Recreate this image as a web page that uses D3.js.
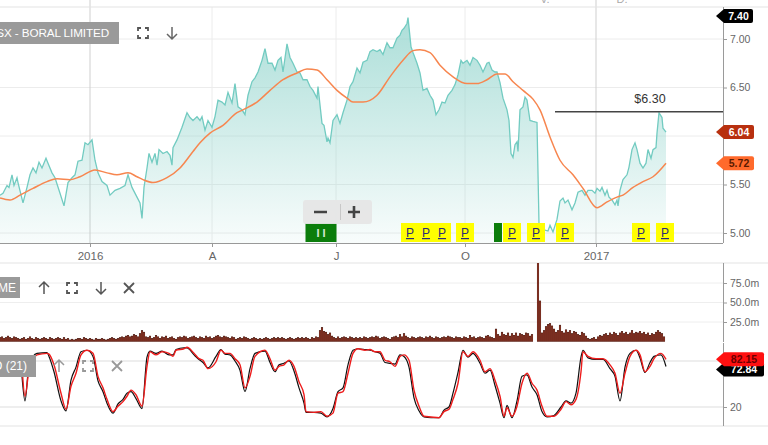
<!DOCTYPE html>
<html>
<head>
<meta charset="utf-8">
<script src="https://cdn.jsdelivr.net/npm/d3@7"></script>
<style>
  body { margin: 0; background: #fff; }
  svg { display: block; font-family: "Liberation Sans", Arial, sans-serif; }
</style>
</head>
<body>
<script>
var chartWidth = 768,
  chartHeight = 445;

// x ticks, in trading sessions from the first bar
var tickDays = [45, 106, 168, 232.5, 298];
var tickLabels = ['2016', 'A', 'J', 'O', '2017'];

// close price [session, price]
var closes = [[0,5.39],[1.5,5.41],[3.5,5.49],[4.5,5.47],[6,5.60],[7,5.49],[8.5,5.57],[9,5.52],[11.5,5.31],[13.5,5.47],
  [15,5.60],[16.5,5.67],[18,5.62],[19.5,5.73],[21,5.67],[23,5.77],[24,5.72],[26,5.62],[27.5,5.57],[30,5.41],
  [32,5.28],[34,5.52],[36,5.57],[37.5,5.60],[39,5.74],[41,5.75],[42.5,5.93],[44,5.91],[46,5.96],[47.5,5.75],
  [49,5.62],[51,5.53],[53.5,5.49],[55,5.39],[57.5,5.44],[60,5.46],[62.5,5.49],[64,5.60],[66,5.47],[68.5,5.37],
  [70,5.31],[71,5.15],[72,5.47],[73.5,5.67],[74.5,5.82],[76,5.73],[77.5,5.82],[78.5,5.70],[79.5,5.86],[81.5,5.82],
  [83.5,5.84],[85,5.80],[86,5.70],[86.5,5.88],[88.5,5.96],[91,6.09],[93.5,6.24],[95,6.19],[96.5,6.16],[98.5,6.20],
  [100,6.16],[101,6.20],[102.5,6.06],[104,6.16],[106,6.09],[107.5,6.20],[109,6.37],[111,6.35],[112.5,6.32],[114,6.45],
  [116,6.34],[117.5,6.54],[119,6.30],[121,6.27],[122.5,6.22],[124,6.42],[126,6.56],[127.5,6.60],[129,6.66],[131,6.78],
  [132.5,6.90],[134,6.75],[136,6.75],[137.5,6.68],[139,6.78],[140.5,6.81],[141.5,6.66],[143.5,6.95],[145,6.81],[146.5,6.75],
  [148.5,6.66],[150,6.65],[151.5,6.58],[153.5,6.58],[155,6.51],[156.5,6.47],[158.5,6.39],[159,6.51],[161,6.13],[162,6.11],
  [163.5,5.94],[164,5.98],[165,5.93],[166.5,6.16],[168.5,6.22],[170,6.13],[171.5,6.24],[173.5,6.37],[175,6.51],[176.5,6.56],
  [178.5,6.70],[180,6.65],[181.5,6.76],[183.5,6.78],[185,6.87],[186.5,6.89],[188.5,6.87],[190,6.89],[191.5,6.84],[193.5,6.96],
  [195,6.91],[196.5,6.91],[198.5,7.01],[200,7.04],[201,7.09],[202,7.11],[203.5,7.16],[204,7.22],[205.5,6.92],[206.5,6.86],
  [208.5,6.75],[210,6.65],[211.5,6.47],[213.5,6.49],[215,6.42],[216.5,6.37],[218,6.22],[219.5,6.27],[221,6.35],[222.5,6.34],
  [224,6.42],[226,6.47],[227.5,6.53],[229,6.63],[230.5,6.78],[231.5,6.75],[233.5,6.78],[235,6.73],[236.5,6.81],[238.5,6.78],
  [240,6.73],[241.5,6.66],[243.5,6.75],[244.5,6.76],[246,6.68],[247.5,6.66],[248.5,6.66],[250,6.55],[251.5,6.39],[253.5,6.27],
  [254.5,6.16],[255.5,5.82],[256.5,5.78],[257.5,5.91],[258.5,5.94],[259,5.84],[260,6.27],[261.5,6.30],[262.5,6.40],[263.5,6.37],
  [265,6.16],[266.5,6.15],[268.5,6.14],[269.5,5.10],[271,5.03],[272.5,5.03],[274,5.02],[275,5.08],[276.5,5.01],[278.5,5.14],
  [280,5.33],[281.5,5.36],[282.5,5.31],[284,5.34],[286,5.24],[287.5,5.31],[289,5.42],[291,5.44],[292.5,5.39],[294,5.44],
  [296,5.44],[297.5,5.41],[298.5,5.46],[300,5.43],[301,5.47],[302.5,5.39],[303.5,5.44],[304.5,5.37],[306,5.34],[307.5,5.29],
  [308.5,5.34],[309,5.28],[310,5.44],[311.5,5.55],[313.5,5.60],[314.5,5.68],[316,5.86],[317.5,5.93],[318.5,5.86],[320,5.72],
  [321.5,5.67],[323,5.72],[324,5.86],[325.5,5.77],[326.5,5.86],[328,5.88],[328.5,6.03],[329.5,6.24],[331,6.19],[331.5,6.08],
  [333,6.04]];

// moving average [session, price]
var movingAvg = [[0,5.36],[5,5.34],[10,5.39],[16.5,5.46],[23.5,5.53],[28.5,5.56],[35,5.55],[40,5.58],[47.5,5.65],[53.5,5.62],
  [58.5,5.60],[64,5.62],[68.5,5.58],[71.5,5.55],[76.5,5.52],[83.5,5.57],[90,5.67],[96.5,5.84],[100,5.93],[105,6.03],
  [111.5,6.11],[118.5,6.24],[121.5,6.27],[128.5,6.35],[135,6.47],[141.5,6.58],[148.5,6.65],[153.5,6.69],[158.5,6.68],[163.5,6.58],
  [168.5,6.47],[173.5,6.39],[176.5,6.35],[181.5,6.35],[188.5,6.42],[195,6.61],[201.5,6.78],[206.5,6.88],[210,6.89],[215,6.86],
  [220,6.73],[226.5,6.61],[233.5,6.54],[238.5,6.54],[243.5,6.58],[248.5,6.64],[252.5,6.64],[256.5,6.56],[261.5,6.47],[266.5,6.38],
  [270,6.27],[275,5.99],[280,5.75],[286.5,5.60],[291.5,5.46],[298.5,5.26],[303.5,5.32],[308.5,5.37],[311.5,5.39],[316.5,5.47],
  [321.5,5.53],[326.5,5.58],[333,5.72]];

// volume in millions, one bar per session
var volumes = [5,6,4,5,7,5,4,6,5,4, 3,4,5,3,4,6,4,3,5,4, 3,4,5,4,3,5,4,3,4,5, 4,3,5,3,4,2,3,2,3,4,
  4,3,5,4,3,4,3,2,4,3, 3,4,3,2,3,4,5,4,3,4, 5,6,5,7,8,6,7,9,8,6, 10,14,12,6,5,7,4,5,8,6,
  4,6,5,7,4,5,6,4,3,5, 6,5,7,6,4,5,6,7,5,4, 6,5,4,7,5,6,4,5,7,8, 6,5,7,6,5,4,6,5,3,4,
  5,4,6,5,4,3,4,5,4,3, 4,3,4,5,4,3,4,5,4,5, 4,5,4,3,4,5,4,3,4,5, 4,5,4,5,4,3,5,4,6,5,
  14,18,13,12,9,11,7,5,4,6, 4,5,6,5,4,6,5,4,5,4, 5,4,6,5,4,5,6,5,7,6, 4,5,6,5,4,3,5,6,7,5,
  9,6,10,7,5,4,6,5,4,5, 6,5,4,6,5,7,5,4,6,5, 4,5,6,5,7,6,5,4,6,5, 5,4,6,5,4,8,5,6,4,5,
  6,5,4,7,8,6,5,4,16,9, 7,12,9,8,11,7,10,8,11,7, 10,9,8,11,10,7,9,0,0,101, 52,11,14,19,22,23,20,16,12,14,
  21,13,11,15,12,14,10,13,12,9, 8,12,10,7,4,3,4,5,3,6, 8,7,9,10,8,11,9,12,10,8, 11,13,10,12,9,11,14,10,12,11,
  13,10,12,9,11,8,10,9,12,14, 12,10,6];

// stochastic [session, %K, %D]
var stoch = [[11,60,73],[12.5,28,34],[14.5,75,68],[18.5,90,88],[23.5,91,90],[24.5,86,89],[27,66,75],[30.5,28,38],[33,15,17],[35.5,55,47],
  [38,72,64],[40.5,92,88],[43.5,94,94],[46.5,86,90],[49,54,60],[51.5,40,45],[53.5,25,30],[56.5,12,14],[59,24,21],[61.5,30,27],
  [63.5,38,34],[65.5,40,42],[68,31,36],[71,18,21],[73.5,85,73],[75,93,92],[78,90,88],[81,93,92],[84.5,88,90],[86.5,88,86],
  [88,95,94],[92,97,96],[93.5,97,98],[97,88,90],[99.5,82,83],[101.5,78,81],[104,71,70],[108,86,79],[110.5,95,94],[112.5,89,90],
  [115,88,90],[117.5,80,83],[120,68,75],[122.5,40,45],[125,70,60],[127.5,90,86],[132.5,93,94],[135,78,83],[137.5,66,68],[139.5,75,73],
  [142,77,75],[144.5,80,81],[147,67,73],[149.5,45,53],[152,25,36],[153,13,14],[157,13,13],[160.5,12,14],[163.5,7,8],[166.5,18,12],
  [169,40,38],[171.5,45,40],[174,75,64],[176.5,94,90],[179,96,96],[182.5,95,94],[185,94,95],[187.5,92,92],[190,90,92],[192.5,78,81],
  [195,77,79],[197.5,76,73],[200,88,86],[202,86,88],[204.5,72,81],[207,32,42],[209.5,15,21],[212,7,8],[215.5,6,7],[219.5,6,6],
  [222,16,14],[224.5,20,17],[226.5,38,30],[229,65,51],[231.5,94,92],[234,85,86],[236.5,90,92],[240,77,81],[242.5,64,66],[245,68,70],
  [247.5,48,55],[250,25,34],[252,6,8],[253.5,22,19],[256,6,8],[258.5,28,21],[261,60,51],[263.5,62,64],[266,46,51],[268.5,36,42],
  [271,14,21],[273.5,7,8],[277,9,8],[280.5,20,17],[283,28,27],[285.5,25,23],[288,38,30],[290.5,85,66],[291.5,94,92],[294,84,86],
  [298,82,83],[301.5,82,83],[305,70,75],[307.5,60,64],[310,28,38],[312.5,72,64],[315,90,86],[318,94,94],[320,84,88],[322.5,65,66],
  [325,78,73],[327,86,83],[330.5,88,90],[333,72.84,82.15]];

// event flags under the price
var eventDays = [160.5, 205, 213, 221, 232.5, 249, 256, 268, 282.5, 320.5, 332.5];
var eventTypes = ['split', 'P', 'P', 'P', 'P', 'bar', 'P', 'P', 'P', 'P', 'P'];

var priceGrid = [5, 5.5, 6, 6.5, 7];
var priceLabels = [5, 5.5, 6.5, 7];      // 6.00 sits under the last-price tag
var volumeTicks = [25, 50, 75];
var stochGrid = [20, 80];
var stochLabels = [20];                  // 80 sits under the stochastic tags
var lastClose = 6.04, lastAvg = 5.72, highMark = 7.40;
var lineLevel = 6.25, lineLabel = '$6.30';
var startLineDay = 277.5;

// panels
var axisX = 723;
var main = { top: 7, bottom: 243 };
var vol = { top: 263, bottom: 342 };
var sto = { top: 343, bottom: 426 };

var x = d3.scaleLinear().domain([0, 361.5]).range([0, axisX]);
var yPrice = d3.scaleLinear().domain([5, 7]).range([233, 39]);
var yVol = d3.scaleLinear().domain([0, 75]).range([341.5, 283]);
var ySto = d3.scaleLinear().domain([20, 80]).range([407, 361]);

var svg = d3.select('body').append('svg')
  .attr('width', chartWidth)
  .attr('height', chartHeight)
  .attr('viewBox', '0 0 ' + chartWidth + ' ' + chartHeight);

var defs = svg.append('defs');
var grad = defs.append('linearGradient')
  .attr('id', 'areaFill')
  .attr('gradientUnits', 'userSpaceOnUse')
  .attr('x1', 0).attr('x2', 0).attr('y1', 15).attr('y2', main.bottom);
grad.append('stop').attr('offset', '0%').attr('stop-color', '#8fd3cb').attr('stop-opacity', 0.75);
grad.append('stop').attr('offset', '100%').attr('stop-color', '#8fd3cb').attr('stop-opacity', 0.06);

[['clipMain', main], ['clipVol', vol], ['clipSto', sto]].forEach(function(c) {
  defs.append('clipPath').attr('id', c[0])
    .append('rect')
    .attr('x', 0).attr('y', c[1].top)
    .attr('width', axisX).attr('height', c[1].bottom - c[1].top);
});

//GRID

var grid = svg.append('g').attr('id', 'grid');
grid.selectAll('line.h')
  .data(priceGrid)
  .enter().append('line')
  .attr('x1', 0).attr('x2', axisX)
  .attr('y1', function(d) { return yPrice(d); })
  .attr('y2', function(d) { return yPrice(d); })
  .attr('stroke', '#ececec');
grid.selectAll('line.v')
  .data(tickDays)
  .enter().append('line')
  .attr('x1', function(d) { return x(d); })
  .attr('x2', function(d) { return x(d); })
  .attr('y1', function(d, i) { return /^\d/.test(tickLabels[i]) ? 0 : main.top; })
  .attr('y2', main.bottom)
  .attr('stroke', function(d, i) { return /^\d/.test(tickLabels[i]) ? '#cfcfcf' : '#ececec'; });
grid.selectAll('line.vv')
  .data(volumeTicks)
  .enter().append('line')
  .attr('x1', 0).attr('x2', axisX)
  .attr('y1', function(d) { return yVol(d); })
  .attr('y2', function(d) { return yVol(d); })
  .attr('stroke', '#eeeeee');
grid.selectAll('line.sv')
  .data(stochGrid)
  .enter().append('line')
  .attr('x1', 0).attr('x2', axisX)
  .attr('y1', function(d) { return ySto(d); })
  .attr('y2', function(d) { return ySto(d); })
  .attr('stroke', '#dddddd');

// panel borders
svg.append('line').attr('x1', 0).attr('x2', chartWidth).attr('y1', main.top).attr('y2', main.top).attr('stroke', '#e3e3e3');
svg.append('line').attr('x1', 0).attr('x2', chartWidth).attr('y1', vol.top).attr('y2', vol.top).attr('stroke', '#e3e3e3');
svg.append('line').attr('x1', 0).attr('x2', chartWidth).attr('y1', sto.bottom).attr('y2', sto.bottom).attr('stroke', '#e3e3e3');

// cut-off month labels of the panel above
svg.append('g').attr('fill', '#aaa').attr('font-size', 11)
  .selectAll('text').data([['V.', 545], ['D.', 622]])
  .enter().append('text')
  .attr('x', function(d) { return d[1]; })
  .attr('y', 3)
  .attr('text-anchor', 'middle')
  .text(function(d) { return d[0]; });

//PRICE

var pricePanel = svg.append('g').attr('clip-path', 'url(#clipMain)');
pricePanel.append('path')
  .datum(closes)
  .attr('fill', 'url(#areaFill)')
  .attr('d', d3.area()
    .x(function(d) { return x(d[0]); })
    .y0(main.bottom)
    .y1(function(d) { return yPrice(d[1]); }));
pricePanel.append('path')
  .datum(closes)
  .attr('fill', 'none')
  .attr('stroke', '#72cbc1')
  .attr('stroke-width', 1.3)
  .attr('d', d3.line()
    .x(function(d) { return x(d[0]); })
    .y(function(d) { return yPrice(d[1]); }));
pricePanel.append('path')
  .datum(movingAvg)
  .attr('fill', 'none')
  .attr('stroke', '#f7864f')
  .attr('stroke-width', 1.5)
  .attr('d', d3.line()
    .curve(d3.curveMonotoneX)
    .x(function(d) { return x(d[0]); })
    .y(function(d) { return yPrice(d[1]); }));

// drawn horizontal line
svg.append('line')
  .attr('x1', x(startLineDay)).attr('x2', axisX)
  .attr('y1', yPrice(lineLevel)).attr('y2', yPrice(lineLevel))
  .attr('stroke', '#444').attr('stroke-width', 1.5);
svg.append('text')
  .attr('x', 650).attr('y', yPrice(lineLevel) - 9)
  .attr('text-anchor', 'middle')
  .attr('font-size', 12.5)
  .attr('fill', '#333')
  .text(lineLabel);

// x axis
var xAxis = svg.append('g')
  .attr('transform', 'translate(0,' + main.bottom + ')')
  .call(d3.axisBottom(x).tickValues(tickDays).tickSize(4).tickSizeOuter(0)
    .tickFormat(function(d, i) { return tickLabels[i]; }));
xAxis.select('.domain').attr('stroke', '#999').attr('d', 'M0,0.5H' + axisX);
xAxis.selectAll('.tick line').attr('stroke', '#999');
xAxis.selectAll('.tick text').attr('fill', '#666').attr('font-size', 11.5).attr('font-family', null).attr('dy', '0.9em');

// right axes
function rightAxis(scale, ticks, fmt, top, bottom) {
  var g = svg.append('g')
    .attr('transform', 'translate(' + axisX + ',0)')
    .call(d3.axisRight(scale).tickValues(ticks).tickSize(4).tickFormat(fmt));
  g.select('.domain').attr('d', 'M0.5,' + top + 'V' + bottom).attr('stroke', '#9a9a9a');
  g.selectAll('.tick line').attr('stroke', '#9a9a9a');
  g.selectAll('.tick text').attr('fill', '#666').attr('font-size', 10.5).attr('font-family', null);
  return g;
}
rightAxis(yPrice, priceLabels, d3.format('.2f'), main.top, main.bottom);
rightAxis(yVol, volumeTicks, function(d) { return d3.format('.1f')(d) + 'm'; }, vol.top, vol.bottom);
rightAxis(ySto, stochLabels, d3.format('d'), sto.top, sto.bottom);

//EVENTS

var ev = svg.append('g').attr('id', 'events')
  .selectAll('g')
  .data(eventDays)
  .enter().append('g')
  .attr('transform', function(d) { return 'translate(' + x(d) + ',' + 223 + ')'; });
ev.append('rect')
  .attr('x', function(d, i) { return eventTypes[i] === 'split' ? -15.5 : eventTypes[i] === 'bar' ? -4 : -9; })
  .attr('width', function(d, i) { return eventTypes[i] === 'split' ? 31 : eventTypes[i] === 'bar' ? 8 : 18; })
  .attr('height', 19)
  .attr('fill', function(d, i) { return eventTypes[i] === 'P' ? '#ffff00' : '#0b7d0b'; });
ev.filter(function(d, i) { return eventTypes[i] === 'P'; })
  .append('text')
  .attr('y', 14)
  .attr('text-anchor', 'middle')
  .attr('font-size', 12)
  .attr('text-decoration', 'underline')
  .attr('fill', '#2b2b7a')
  .text('P');
ev.filter(function(d, i) { return eventTypes[i] === 'split'; })
  .append('text')
  .attr('y', 14)
  .attr('text-anchor', 'middle')
  .attr('font-size', 11)
  .attr('font-weight', 'bold')
  .attr('fill', '#cfe8cf')
  .text('I   I');

// zoom control
var zc = svg.append('g').attr('transform', 'translate(303,200)');
zc.append('rect').attr('width', 69).attr('height', 24).attr('rx', 3).attr('fill', '#e6e6e6').attr('opacity', 0.95);
zc.append('line').attr('x1', 37.5).attr('x2', 37.5).attr('y1', 4).attr('y2', 20).attr('stroke', '#c8c8c8');
zc.append('path').attr('d', 'M11,12H24M45,12H57M51,6V18').attr('stroke', '#444').attr('stroke-width', 2.6);

//VOLUME

svg.append('g').attr('clip-path', 'url(#clipVol)')
  .selectAll('rect')
  .data(volumes)
  .enter().append('rect')
  .attr('x', function(d, i) { return x(i) - 0.8; })
  .attr('width', 1.6)
  .attr('y', function(d) { return yVol(d); })
  .attr('height', function(d) { return yVol(0) - yVol(d); })
  .attr('fill', '#a3220a')
  .attr('stroke', '#2c0800')
  .attr('stroke-width', 0.45);

//STOCHASTIC

var stoPanel = svg.append('g').attr('clip-path', 'url(#clipSto)');
stoPanel.append('path')
  .datum(stoch)
  .attr('fill', 'none')
  .attr('stroke', '#111')
  .attr('stroke-width', 1.2)
  .attr('d', d3.line().curve(d3.curveMonotoneX)
    .x(function(d) { return x(d[0]); })
    .y(function(d) { return ySto(d[1]); }));
stoPanel.append('path')
  .datum(stoch)
  .attr('fill', 'none')
  .attr('stroke', '#ee1c1c')
  .attr('stroke-width', 1.4)
  .attr('d', d3.line().curve(d3.curveMonotoneX)
    .x(function(d) { return x(d[0]); })
    .y(function(d) { return ySto(d[2]); }));

//LABELS

function tag(cy, w, fill, textFill, txt) {
  var g = svg.append('g').attr('transform', 'translate(' + (axisX - 7) + ',' + cy + ')');
  g.append('path')
    .attr('d', 'M0,0L8,-7H' + w + 'Q' + (w + 2) + ',-7 ' + (w + 2) + ',-5V5Q' + (w + 2) + ',7 ' + w + ',7H8Z')
    .attr('fill', fill);
  g.append('text')
    .attr('x', (w + 10) / 2)
    .attr('y', 4)
    .attr('text-anchor', 'middle')
    .attr('font-size', 10.5)
    .attr('font-weight', 'bold')
    .attr('fill', textFill)
    .text(txt);
}
tag(Math.max(yPrice(highMark), 16), 35, '#000', '#fff', d3.format('.2f')(highMark));
tag(yPrice(lastClose), 36, '#b8300f', '#fff', d3.format('.2f')(lastClose));
tag(yPrice(lastAvg), 36, '#ff6a2c', '#5a1a00', d3.format('.2f')(lastAvg));
var lastSto = stoch[stoch.length - 1];
tag(ySto(lastSto[1]) + 3, 46, '#000', '#fff', d3.format('.2f')(lastSto[1]));
tag(ySto(lastSto[2]), 46, '#ff1010', '#6a0000', d3.format('.2f')(lastSto[2]));

// panel title boxes (names run off the left edge)
function titleBox(y, w, h, txt, fontSize, textEnd, spacing) {
  svg.append('rect').attr('x', 0).attr('y', y).attr('width', w).attr('height', h).attr('fill', '#9a9a9a');
  svg.append('text')
    .attr('x', textEnd).attr('y', y + h / 2 + fontSize * 0.36)
    .attr('text-anchor', 'end')
    .attr('font-size', fontSize)
    .attr('letter-spacing', spacing || 0)
    .attr('fill', '#fff')
    .text(txt);
}
titleBox(22, 119, 22, 'ASX - BORAL LIMITED', 11.7, 109, -0.1);
titleBox(277, 20, 21, 'VOLUME', 12, 16);
titleBox(355, 36, 22, 'STO (21)', 12, 27);

// panel icons
function icon(kind, cx, cy, color) {
  var g = svg.append('g')
    .attr('transform', 'translate(' + cx + ',' + cy + ')')
    .attr('fill', 'none').attr('stroke', color).attr('stroke-width', 1.5);
  if (kind === 'expand') {
    g.append('path').attr('d', 'M-5,-2V-5H-2M2,-5H5V-2M5,2V5H2M-2,5H-5V2').attr('stroke-width', 1.8);
  } else if (kind === 'down') {
    g.append('path').attr('d', 'M0,-6V6M-5,1L0,6L5,1');
  } else if (kind === 'up') {
    g.append('path').attr('d', 'M0,6V-6M-5,-1L0,-6L5,-1');
  } else {
    g.append('path').attr('d', 'M-5,-5L5,5M5,-5L-5,5').attr('stroke-width', 1.8);
  }
}
icon('expand', 143, 33, '#555');
icon('down', 172, 33, '#666');
icon('up', 44, 288, '#555');
icon('expand', 72, 288, '#555');
icon('down', 101, 288, '#555');
icon('close', 129, 288, '#555');
icon('up', 59, 366, '#999');
icon('expand', 88, 366, '#999');
icon('close', 117, 366, '#999');
</script>
</body>
</html>
